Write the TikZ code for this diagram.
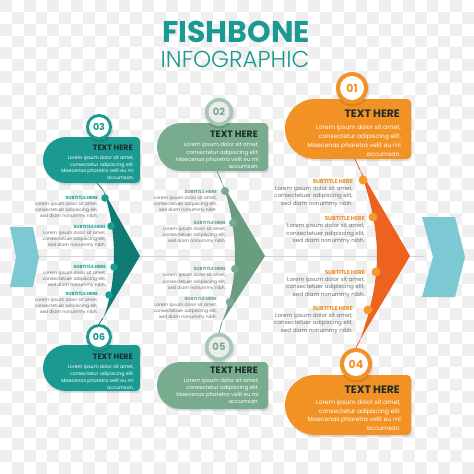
\documentclass[tikz,border=0pt]{standalone}
\usepackage{fontspec}
\setmainfont{Poppins}
\IfFontExistsTF{Poppins Light}{\newfontfamily\thinfont{Poppins Light}}{\newfontfamily\thinfont{Poppins}}
\usetikzlibrary{calc}
\definecolor{titleteal}{HTML}{1A9A90}
\definecolor{tealbox}{HTML}{1B9A91}
\definecolor{tealarrow}{HTML}{0F7B72}
\definecolor{tealdot}{HTML}{17A092}
\definecolor{sagebox}{HTML}{79AB8F}
\definecolor{sagearrow}{HTML}{6A9C80}
\definecolor{sagering}{HTML}{A7C8B5}
\definecolor{sagetxt}{HTML}{6A9E86}
\definecolor{orangebox}{HTML}{F39224}
\definecolor{orangearrow}{HTML}{EE6220}
\definecolor{orangedot}{HTML}{F29A30}
\definecolor{orangetxt}{HTML}{F08A22}
\definecolor{chevblue}{HTML}{7CC8D3}
\definecolor{darktxt}{HTML}{1F2C2C}
\definecolor{graytxt}{HTML}{6E6E6E}
\definecolor{checker}{HTML}{EFEFEF}
\definecolor{spinegray}{HTML}{D4D4D4}

\newcommand{\infobox}[5]{%
  \pgfmathsetmacro\rr{(#5-#3)/2}%
  \fill[black,opacity=0.10] (#2+\rr+1,#3+2) -- (#4-3,#3+2) arc[start angle=270,end angle=360,radius=4] -- (#4+1,#5-2) arc[start angle=0,end angle=90,radius=4] -- (#2+\rr+1,#5+2) arc[start angle=90,end angle=270,radius=\rr] -- cycle;
  \fill[#1] (#2+\rr,#3) -- (#4-4,#3) arc[start angle=270,end angle=360,radius=4] -- (#4,#5-4) arc[start angle=0,end angle=90,radius=4] -- (#2+\rr,#5) arc[start angle=90,end angle=270,radius=\rr] -- cycle;
}
% name, x right, y center of title, title size, lorem size, lorem line skip
\newcommand{\boxtext}[6]{%
  \node[anchor=east, inner sep=0, text=darktxt, font=\bfseries\fontsize{#4}{#4}\selectfont] (#1t) at (#2,#3) {TEXT HERE};
  \pgfmathsetmacro\yy{#3+0.45*#4+0.9*#6-0.45*#5}%
  \node[anchor=north east, inner sep=0, align=right, text=white, font=\fontsize{#5}{#6}\selectfont] (#1l) at (#2+1,\yy) {Lorem ipsum dolor sit amet,\\consectetur adipiscing elit.\\Maecenas pharetra velit eu mi\\accumsan.};
}
% name, x right, y center of subtitle, size, skip, colour
\newcommand{\subgrp}[6]{%
  \pgfmathsetmacro\yy{#3-0.36*#4}%
  \node[anchor=north east, inner sep=0, align=right, text=graytxt, font=\fontsize{#4}{#5}\selectfont] (#1) at (#2,\yy) {{\color{#6}\bfseries SUBTITLE HERE}\\Lorem ipsum dolor sit amet,\\consectetuer adipiscing elit,\\sed diam nonummy nibh.};
}
% name, x, y, ring colour, ring radius, inner colour, inner radius, number colour, size
\newcommand{\badge}[9]{%
  \node[circle, fill=black, opacity=0.10, minimum size=2*#5+2, inner sep=0] (#1s) at (#2+0.5,#3+1.5) {};
  \node[circle, fill=#4, minimum size=2*#5, inner sep=0] (#1) at (#2,#3) {};
  \node[circle, fill=#6, minimum size=2*#7, inner sep=0, text=#8, font=\bfseries\fontsize{#9}{#9}\selectfont] (#1n) at (#2,#3) {\badgenum};
}

\begin{document}
\begin{tikzpicture}[x=1pt,y=-1pt]
\useasboundingbox (0,0) rectangle (474,474);
% transparency checkerboard
\fill[white] (0,0) rectangle (474,474);
\foreach \i in {0,...,39}{
  \foreach \j in {0,2,...,38}{
    \pgfmathtruncatemacro\jj{\j+mod(\i,2)}
    \fill[checker] (\i*11.85,\jj*11.85) rectangle ++(11.85,11.85);
  }
}

% title
\node[inner sep=0, text=titleteal, font=\bfseries\fontsize{30}{30}\selectfont] (title1) at (236,32) {FISHBONE};
\node[inner sep=0, text=titleteal, font=\thinfont\fontsize{23}{23}\selectfont] (title2) at (235,59) {INFOGRAPHIC};

% spine and chevrons
\coordinate (spineL) at (38,256);
\coordinate (spineR) at (424,256);
\draw[spinegray, line width=1] (spineL) -- (spineR);
\fill[chevblue] (10,227) -- (33,227) -- (39,257) -- (33,287) -- (10,287) -- (16,257) -- cycle;
\fill[chevblue] (422,217) -- (455,217) -- (465,257) -- (455,297) -- (422,297) -- (433,257) -- cycle;

% arrowheads
\fill[tealarrow] (103,190) -- (140,256) -- (103,318) .. controls (109,305) and (114,282) .. (114,256) .. controls (114,230) and (109,205) .. (103,190) -- cycle;
\fill[sagearrow] (222,183) -- (265,256) -- (222,322) .. controls (229,305) and (235,282) .. (235,256) .. controls (235,230) and (229,200) .. (222,183) -- cycle;
\fill[orangearrow] (360,170) -- (410,256) -- (360,340) .. controls (369,315) and (377,285) .. (377,256) .. controls (377,225) and (369,195) .. (360,170) -- cycle;

% dots
\foreach \p/\n in {{(105,198)}/a,{(111,226)}/b,{(114,267)}/c,{(109,295)}/d}{
  \node[circle, fill=tealdot, minimum size=7.5, inner sep=0] (td\n) at \p {};
}
\foreach \p/\n in {{(225,191)}/a,{(233,223)}/b,{(235,269)}/c,{(230,302)}/d}{
  \node[circle, fill=sagebox, minimum size=8, inner sep=0] (sd\n) at \p {};
}
\foreach \p/\n in {{(363,180)}/a,{(373,217)}/b,{(376,272)}/c,{(368,310)}/d}{
  \node[circle, fill=orangedot, minimum size=9, inner sep=0] (od\n) at \p {};
}

% boxes
\infobox{tealbox}{43}{137}{140}{183}
\infobox{tealbox}{43}{345}{140}{391}
\infobox{sagebox}{157}{123}{268}{171}
\infobox{sagebox}{157}{362}{268}{409}
\infobox{orangebox}{285}{99}{411}{159}
\infobox{orangebox}{285}{375}{411}{435}

% connector ends
\coordinate (b03bot) at (97,183);
\coordinate (a1top) at (103,190);
\coordinate (a1bot) at (103,318);
\coordinate (b02bot) at (217,171);
\coordinate (a2top) at (222,183);
\coordinate (a2bot) at (222,322);
\coordinate (b01bot) at (355,159);
\coordinate (a3top) at (360,170);
\coordinate (a3bot) at (360,340);

% badges
\def\badgenum{03}\badge{bd03}{99}{127}{tealbox}{13}{white}{10}{tealbox}{9.5}
\def\badgenum{06}\badge{bd06}{99}{337}{tealbox}{13}{white}{10}{tealbox}{9.5}
\def\badgenum{02}\badge{bd02}{219}{112}{sagering}{14}{white!92!black}{10.5}{sagebox}{10}
\def\badgenum{05}\badge{bd05}{219}{347}{sagering}{14}{white!92!black}{10.5}{sagebox}{10}
\def\badgenum{01}\badge{bd01}{352}{88}{orangebox}{16}{white}{12}{orangebox}{11}
\def\badgenum{04}\badge{bd04}{356}{364}{orangebox}{16}{white}{12}{orangebox}{11}

\draw[tealarrow, line width=0.8] (b03bot) -- (a1top);
\draw[tealarrow, line width=0.8] (a1bot) -- (bd06.north);
\draw[sagearrow, line width=0.8] (b02bot) -- (a2top);
\draw[sagearrow, line width=0.8] (a2bot) -- (bd05.north);
\draw[orangearrow, line width=0.8] (b01bot) -- (a3top);
\draw[orangearrow, line width=0.8] (a3bot) -- (bd04.north);

% box texts
\boxtext{x03}{133}{148}{7.8}{4.75}{6.8}
\boxtext{x06}{133}{357}{7.8}{4.75}{6.9}
\boxtext{x02}{258}{134}{9.3}{5.4}{7.4}
\boxtext{x05}{258}{370}{9.3}{5.4}{7.1}
\boxtext{x01}{400}{114}{10.8}{6.1}{9.2}
\boxtext{x04}{400}{390}{10.8}{6.1}{8.6}

% subtitle groups
\subgrp{s1}{98}{198}{4.5}{5.8}{tealdot}
\subgrp{s2}{106}{227}{4.5}{5.8}{tealdot}
\subgrp{s3}{106}{267}{4.5}{5.8}{tealdot}
\subgrp{s4}{98}{294}{4.5}{5.9}{tealdot}
\subgrp{s5}{217}{192}{4.5}{6}{sagetxt}
\subgrp{s6}{226}{223}{4.5}{6}{sagetxt}
\subgrp{s7}{226}{269}{4.5}{6.2}{sagetxt}
\subgrp{s8}{217}{299}{4.5}{6}{sagetxt}
\subgrp{s9}{353}{181}{5.6}{7.3}{orangetxt}
\subgrp{s10}{365}{218}{5.6}{7.6}{orangetxt}
\subgrp{s11}{365}{272}{5.6}{7.4}{orangetxt}
\subgrp{s12}{353}{308}{5.6}{7.4}{orangetxt}
\end{tikzpicture}
\end{document}
